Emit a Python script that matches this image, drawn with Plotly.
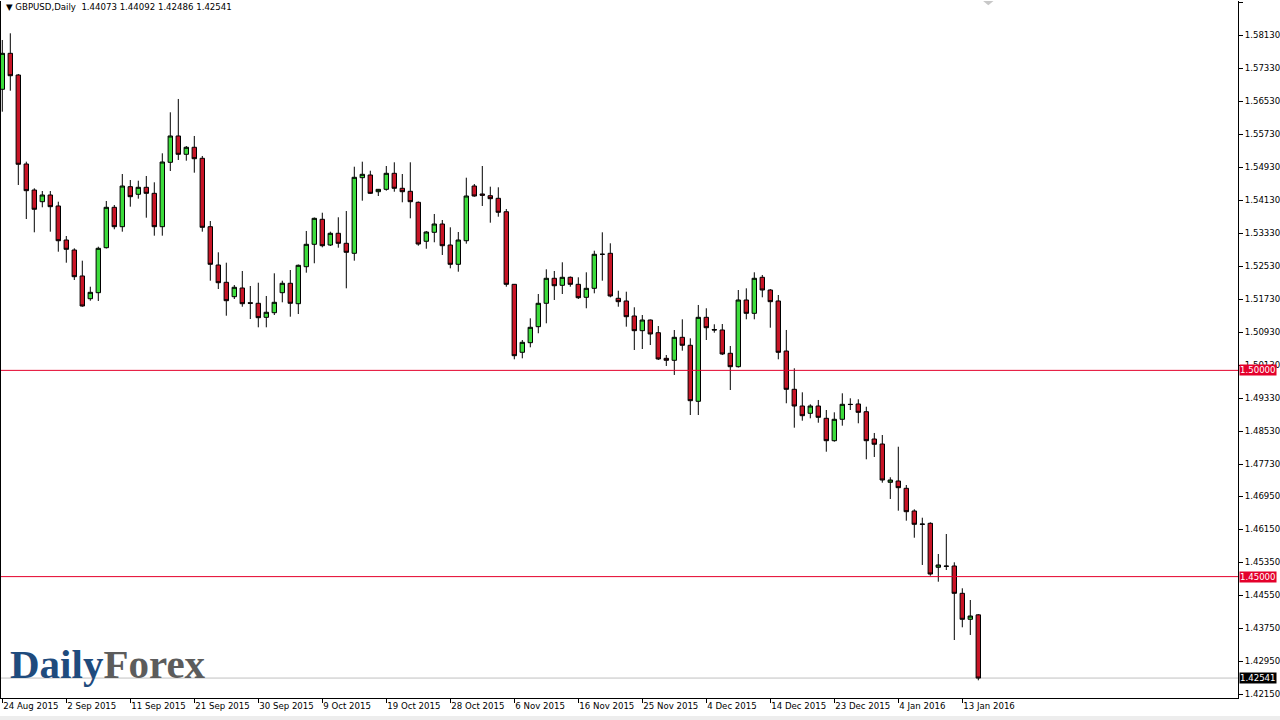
import pandas as pd
import plotly.graph_objects as go

# ---------------- data ----------------
symbol_title = "GBPUSD,Daily"
all_days = pd.date_range("2015-08-24", "2016-01-15", freq="D")
holidays = {"2015-12-25", "2016-01-01"}
days = [d for d in all_days if d.weekday() != 5 and d.strftime("%Y-%m-%d") not in holidays]
dates = [d.strftime("%Y-%m-%d") for d in days]

opens = [1.56814, 1.57686, 1.57160, 1.55003, 1.54372, 1.54089, 1.54251, 1.53985, 1.53160, 1.52918,
         1.52288, 1.51737, 1.51883, 1.52974, 1.53953, 1.53483, 1.54453, 1.54268, 1.54438, 1.54292,
         1.53483, 1.55044, 1.55682, 1.55238, 1.55408, 1.55141, 1.53483, 1.52554, 1.52135, 1.51786,
         1.51997, 1.51640, 1.51626, 1.51286, 1.51398, 1.51883, 1.52111, 1.51616, 1.52513, 1.53056,
         1.53662, 1.53039, 1.53323, 1.53080, 1.52838, 1.54671, 1.54736, 1.54331, 1.54389, 1.54777,
         1.54414, 1.54341, 1.54074, 1.53129, 1.53347, 1.53548, 1.53039, 1.52571, 1.53143, 1.54469,
         1.54276, 1.54234, 1.54171, 1.53846, 1.52086, 1.50438, 1.50671, 1.51059, 1.51626, 1.52232,
         1.52062, 1.52256, 1.52086, 1.51771, 1.51989, 1.52814, 1.52838, 1.51747, 1.51682, 1.51318,
         1.50962, 1.51221, 1.50913, 1.50292, 1.50244, 1.50801, 1.50608, 1.49250, 1.51286, 1.50991,
         1.50979, 1.50414, 1.50089, 1.51706, 1.51383, 1.52256, 1.51948, 1.51682, 1.50469, 1.49541,
         1.49136, 1.48959, 1.49136, 1.48838, 1.48295, 1.48814, 1.49177, 1.49185, 1.48998, 1.48336,
         1.48215, 1.47286, 1.47318, 1.47141, 1.46591, 1.46276, 1.46292, 1.45226, 1.45257, 1.45257,
         1.44595, 1.43965, 1.44073]
highs = [1.58009, 1.58171, 1.57185, 1.55059, 1.54414, 1.54348, 1.54348, 1.54089, 1.53257, 1.52959,
         1.52659, 1.52028, 1.52998, 1.54106, 1.54009, 1.54760, 1.54615, 1.54598, 1.54712, 1.54559,
         1.55262, 1.56256, 1.56579, 1.55439, 1.55682, 1.55197, 1.53621, 1.52862, 1.52610, 1.52069,
         1.52409, 1.52045, 1.52125, 1.51803, 1.52353, 1.52174, 1.52433, 1.52566, 1.53379, 1.53706,
         1.53822, 1.53362, 1.53711, 1.53863, 1.54937, 1.55059, 1.54840, 1.54397, 1.54954, 1.55044,
         1.54760, 1.55044, 1.54094, 1.53379, 1.53791, 1.53645, 1.53468, 1.53354, 1.54671, 1.54518,
         1.54954, 1.54453, 1.54438, 1.53912, 1.52094, 1.50736, 1.51262, 1.51851, 1.52450, 1.52409,
         1.52620, 1.52276, 1.52256, 1.52377, 1.52901, 1.53347, 1.53080, 1.51931, 1.51907, 1.51529,
         1.51342, 1.51233, 1.51075, 1.50372, 1.50978, 1.51238, 1.50777, 1.51585, 1.51505, 1.51117,
         1.51124, 1.50591, 1.51948, 1.51989, 1.52377, 1.52312, 1.51972, 1.51827, 1.50979, 1.50050,
         1.49468, 1.49177, 1.49282, 1.49039, 1.48983, 1.49444, 1.49323, 1.49299, 1.49119, 1.48482,
         1.48433, 1.47408, 1.48149, 1.47221, 1.46632, 1.46428, 1.46317, 1.45548, 1.46033, 1.45347,
         1.44717, 1.44433, 1.44092]
lows = [1.56271, 1.56780, 1.54494, 1.53669, 1.53347, 1.53953, 1.53362, 1.52877, 1.52610, 1.52191,
        1.51543, 1.51689, 1.51682, 1.52954, 1.53420, 1.53362, 1.53968, 1.54162, 1.53701, 1.53265,
        1.53265, 1.54833, 1.55100, 1.55083, 1.54792, 1.53362, 1.52174, 1.51972, 1.51325, 1.51730,
        1.51543, 1.51245, 1.51044, 1.51044, 1.51342, 1.51650, 1.51301, 1.51366, 1.52368, 1.52596,
        1.52983, 1.53015, 1.52974, 1.51989, 1.52659, 1.54113, 1.54276, 1.54227, 1.54356, 1.54331,
        1.54074, 1.53686, 1.53022, 1.52949, 1.53105, 1.52797, 1.52474, 1.52392, 1.53071, 1.54210,
        1.53985, 1.53580, 1.53725, 1.52028, 1.50268, 1.50292, 1.50559, 1.50899, 1.51141, 1.51706,
        1.51851, 1.52028, 1.51730, 1.51505, 1.51868, 1.52174, 1.51771, 1.51543, 1.51059, 1.50494,
        1.50518, 1.50615, 1.50251, 1.50106, 1.49888, 1.50477, 1.48918, 1.48918, 1.50736, 1.50913,
        1.50372, 1.49524, 1.50069, 1.51238, 1.51238, 1.51771, 1.51034, 1.50268, 1.49202, 1.48610,
        1.48780, 1.48838, 1.48731, 1.48028, 1.48271, 1.48659, 1.49039, 1.48717, 1.47844, 1.47900,
        1.47277, 1.46882, 1.46598, 1.46356, 1.45943, 1.45282, 1.45022, 1.44877, 1.45160, 1.43463,
        1.43771, 1.43585, 1.42486]
closes = [1.57686, 1.57143, 1.54996, 1.54356, 1.53905, 1.54251, 1.53968, 1.53143, 1.52935, 1.52271,
          1.51560, 1.51892, 1.52959, 1.53953, 1.53483, 1.54469, 1.54210, 1.54438, 1.54292, 1.53483,
          1.55051, 1.55682, 1.55238, 1.55408, 1.55131, 1.53468, 1.52571, 1.52125, 1.51689, 1.52014,
          1.51616, 1.51626, 1.51277, 1.51408, 1.51650, 1.52111, 1.51626, 1.52547, 1.53056, 1.53686,
          1.53022, 1.53323, 1.53080, 1.52862, 1.54680, 1.54753, 1.54292, 1.54389, 1.54777, 1.54414,
          1.54331, 1.54089, 1.53063, 1.53354, 1.53548, 1.53022, 1.52571, 1.53160, 1.54227, 1.54227,
          1.54244, 1.54162, 1.53832, 1.52086, 1.50356, 1.50680, 1.51044, 1.51626, 1.52232, 1.52052,
          1.52256, 1.52086, 1.51761, 1.51989, 1.52814, 1.52814, 1.51803, 1.51665, 1.51301, 1.50962,
          1.51221, 1.50882, 1.50276, 1.50244, 1.50801, 1.50608, 1.49265, 1.51286, 1.51034, 1.50979,
          1.50397, 1.50089, 1.51706, 1.51383, 1.52232, 1.51948, 1.51665, 1.50438, 1.49541, 1.49136,
          1.48901, 1.49136, 1.48862, 1.48295, 1.48814, 1.49177, 1.49172, 1.48983, 1.48295, 1.48208,
          1.47342, 1.47342, 1.47156, 1.46574, 1.46268, 1.46268, 1.45063, 1.45282, 1.45250, 1.44595,
          1.43965, 1.44045, 1.42541]

level_lines = [1.50000, 1.45000]
price_ticks = [1.58930, 1.58130, 1.57330, 1.56530, 1.55730, 1.54930, 1.54130, 1.53330, 1.52530,
               1.51730, 1.50930, 1.50130, 1.49330, 1.48530, 1.47730, 1.46950, 1.46150, 1.45350,
               1.44550, 1.43750, 1.42950, 1.42150]
label_step = 8
tick_dates = dates[::label_step]
tick_text = [f"{d.day} {d.strftime('%b %Y')}" for d in days[::label_step]]

# ---------------- figure ----------------
FONT = "DejaVu Sans"
FS = 8.6
BULL = "#3cdc3c"
BEAR = "#c81426"
LEVEL = "#e4002b"

fig = go.Figure(go.Candlestick(
    x=dates, open=opens, high=highs, low=lows, close=closes,
    increasing=dict(line=dict(color="black", width=1), fillcolor=BULL),
    decreasing=dict(line=dict(color="black", width=1), fillcolor=BEAR),
    whiskerwidth=0, hoverinfo="skip",
))

fig.update_layout(
    width=1280, height=720,
    margin=dict(l=1, r=42, t=1, b=22, autoexpand=False),
    paper_bgcolor="white", plot_bgcolor="white",
    showlegend=False, boxgap=0.45, boxgroupgap=0,
    font=dict(family=FONT, size=FS, color="black"),
)
fig.update_xaxes(
    type="category", range=[-0.1625, 154.4625],
    tickvals=tick_dates, ticktext=tick_text, tickangle=0,
    ticks="outside", ticklen=4, tickcolor="black", tickwidth=1,
    ticklabelposition="outside right", automargin=False,
    showgrid=False, zeroline=False, showline=True, linecolor="black", linewidth=1,
    rangeslider_visible=False, fixedrange=True,
)
fig.update_yaxes(
    side="right", range=[1.420573, 1.589543], automargin=False,
    tickvals=price_ticks, ticktext=[f"{v:.5f}" for v in price_ticks],
    ticks="outside", ticklen=4, tickcolor="black", tickwidth=1,
    showgrid=False, zeroline=False, showline=True, mirror=True,
    linecolor="black", linewidth=1, fixedrange=True,
)

# horizontal levels and current-price line
for lv in level_lines:
    fig.add_shape(type="line", xref="paper", x0=0, x1=1, yref="y", y0=lv, y1=lv,
                  line=dict(color=LEVEL, width=1))
fig.add_shape(type="line", xref="paper", x0=0, x1=1, yref="y", y0=closes[-1], y1=closes[-1],
              line=dict(color="#c0c0c0", width=1), layer="below")

# price tags on the right axis
for v, bg in [(level_lines[0], LEVEL), (level_lines[1], LEVEL), (closes[-1], "black")]:
    fig.add_annotation(xref="paper", x=1, xanchor="left", xshift=1, yref="y", y=v,
                       text=f"{v:.5f}", showarrow=False, bgcolor=bg, borderpad=0,
                       font=dict(color="white", size=FS, family=FONT))

# title
fig.add_annotation(xref="paper", x=0, xanchor="left", xshift=3, yref="paper", y=1, yanchor="top",
                   yshift=1,
                   text=f"▼ {symbol_title}&nbsp;&nbsp;{opens[-1]:.5f} {highs[-1]:.5f} {lows[-1]:.5f} {closes[-1]:.5f}",
                   showarrow=False, font=dict(family=FONT, size=FS, color="black"))

# logo
fig.add_annotation(xref="paper", x=0, xanchor="left", xshift=7, yref="y", y=1.42882, yanchor="middle",
                   text="<b><span style='color:#1f4b7d'>Daily</span><span style='color:#5c5c5c'>Forex</span></b>",
                   showarrow=False, font=dict(family="Liberation Serif", size=41))

# chart-shift marker and bottom window strip
fig.add_shape(type="path", xref="x", yref="paper",
              path="M 122.6 1 L 123.9 1 L 123.25 0.994 Z",
              fillcolor="#c8c8c8", line=dict(width=0))
fig.add_shape(type="rect", xref="paper", yref="paper", x0=-0.01, x1=1.05, y0=-0.0258, y1=-0.04,
              fillcolor="#ededed", line=dict(width=0))

fig.write_html("out.html")
